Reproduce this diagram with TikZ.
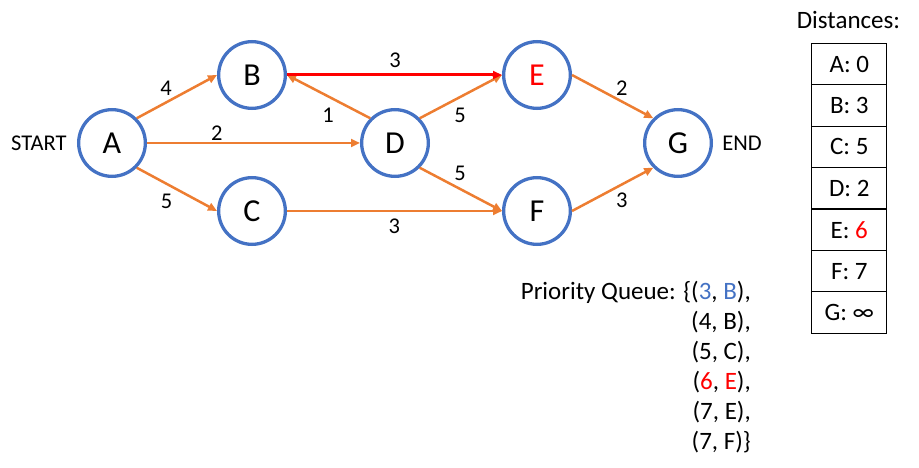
\documentclass[tikz,border=0pt]{standalone}
\usepackage{fontspec}
\setmainfont{Carlito}
\usetikzlibrary{arrows.meta}
\definecolor{nodeblue}{HTML}{4472C4}
\definecolor{edgeorange}{HTML}{ED7D31}
\definecolor{hired}{HTML}{FF0000}
\tikzset{
  vert/.style={circle, draw=nodeblue, line width=3.3pt, minimum size=66.7pt, inner sep=0pt, font=\fontsize{32}{38}\selectfont},
  edge/.style={draw=edgeorange, line width=2.5pt, -{Triangle[length=9pt,width=8pt]}},
  redge/.style={draw=hired, line width=3pt, -{Triangle[length=9pt,width=8pt]}},
  wlab/.style={font=\fontsize{22.5}{27}\selectfont, inner sep=0pt},
  side/.style={font=\fontsize{22.5}{27}\selectfont, inner sep=0pt},
  plain/.style={font=\fontsize{25}{30}\selectfont, inner sep=0pt},
  cell/.style={draw=black, line width=1pt, minimum width=75.3pt, minimum height=41.43pt, inner sep=0pt, font=\fontsize{25}{30}\selectfont},
}
\begin{document}
\begin{tikzpicture}[x=1pt,y=-1pt]
\useasboundingbox (0,0) rectangle (919,468);
% vertices
\node[vert] (A) at (112,143) {A};
\node[vert] (B) at (252,75) {B};
\node[vert] (C) at (252,211) {C};
\node[vert] (D) at (395,143) {D};
\node[vert] (E) at (537,75) {\textcolor{hired}{E}};
\node[vert] (F) at (537,211) {F};
\node[vert] (G) at (678,143) {G};
% edges
\draw[edge] (A.north east) -- (B.west);
\draw[edge] (A.east) -- (D.west);
\draw[edge] (A.south east) -- (C.west);
\draw[edge] (D.north west) -- (B.east);
\draw[edge] (D.north east) -- (E.west);
\draw[edge] (D.south east) -- (F.west);
\draw[edge] (C.east) -- (F.west);
\draw[edge] (E.east) -- (G.north west);
\draw[edge] (F.east) -- (G.south west);
\draw[redge] (B.east) -- (E.west);
% weights
\node[wlab] (wAB) at (166,88) {4};
\node[wlab] (wAD) at (216.7,133) {2};
\node[wlab] (wAC) at (166.7,201.5) {5};
\node[wlab] (wBE) at (395,60) {3};
\node[wlab] (wDB) at (328,115) {1};
\node[wlab] (wDE) at (460,115) {5};
\node[wlab] (wDF) at (460,173.5) {5};
\node[wlab] (wCF) at (394.3,226.7) {3};
\node[wlab] (wEG) at (621.7,88.3) {2};
\node[wlab] (wFG) at (621.7,200.7) {3};
% start / end
\node[side] (start) at (38.8,142.8) {START};
\node[side] (end) at (742,143) {END};
% distances
\node[plain] (dtitle) at (848.5,20) {Distances:};
\node[cell] (d1) at (849.3,64.0) {A: 0};
\node[cell] (d2) at (849.3,105.4) {B: 3};
\node[cell] (d3) at (849.3,146.9) {C: 5};
\node[cell] (d4) at (849.3,188.3) {D: 2};
\node[cell] (d5) at (849.3,229.7) {E: \textcolor{hired}{6}};
\node[cell] (d6) at (849.3,271.1) {F: 7};
\node[cell] (d7) at (849.3,312.6) {G: ∞};
% priority queue
\node[plain, anchor=base east] (pq1) at (751,299) {Priority Queue: \{(\textcolor{nodeblue}{3}, \textcolor{nodeblue}{B}),};
\node[plain, anchor=base east] (pq2) at (751,329) {(4, B),};
\node[plain, anchor=base east] (pq3) at (751,359) {(5, C),};
\node[plain, anchor=base east] (pq4) at (751,389) {(\textcolor{hired}{6}, \textcolor{hired}{E}),};
\node[plain, anchor=base east] (pq5) at (751,419) {(7, E),};
\node[plain, anchor=base east] (pq6) at (751,449) {(7, F)\}};
\end{tikzpicture}
\end{document}
